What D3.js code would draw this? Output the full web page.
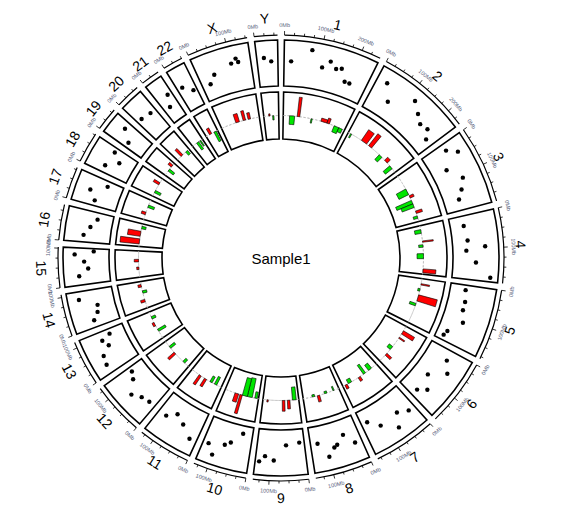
<!DOCTYPE html>
<html><head><meta charset="utf-8">
<script src="https://cdn.jsdelivr.net/npm/d3@7"></script>
<style>body{margin:0;background:#fff}</style></head>
<body><svg id="chart" width="562" height="523"></svg>
<script>
// chromosome names and lengths (Mb, hg19)
const chromosomes = ["1","2","3","4","5","6","7","8","9","10","11","12","13","14","15","16","17","18","19","20","21","22","X","Y"];
const lengths = [249,243,198,191,181,171,159,146,141,136,135,134,115,107,103,90,81,78,59,63,48,51,155,59];

// outer track points: [chr, position Mb, value 0..1]
const points = [
  ["1",20,0.55],["1",75,0.9],["1",110,0.5],["1",130,0.7],["1",150,0.55],["1",165,0.6],["1",185,0.3],["1",200,0.3],
  ["2",30,0.75],["2",60,0.35],["2",120,0.8],["2",150,0.6],["2",175,0.45],["2",200,0.5],["2",220,0.3],
  ["3",20,0.55],["3",40,0.8],["3",70,0.3],["3",110,0.6],["3",140,0.45],["3",165,0.3],
  ["4",30,0.25],["4",75,0.3],["4",95,0.75],["4",105,0.25],["4",140,0.5],["4",180,0.9],
  ["5",15,0.3],["5",50,0.35],["5",75,0.35],["5",110,0.45],["5",150,0.15],["5",165,0.1],
  ["6",30,0.5],["6",60,0.7],["6",95,0.3],["6",130,0.55],["6",150,0.35],
  ["7",20,0.6],["7",50,0.45],["7",70,0.8],["7",110,0.5],["7",140,0.25],
  ["8",20,0.6],["8",45,0.3],["8",70,0.5],["8",80,0.55],["8",100,0.75],["8",125,0.35],
  ["9",15,0.25],["9",55,0.3],["9",90,0.7],["9",115,0.6],["9",130,0.75],
  ["10",30,0.1],["10",60,0.4],["10",75,0.5],["10",100,0.85],["10",120,0.6],
  ["11",20,0.7],["11",55,0.45],["11",85,0.3],["11",110,0.5],
  ["12",20,0.5],["12",45,0.55],["12",70,0.7],["12",100,0.4],["12",120,0.3],
  ["13",25,0.75],["13",50,0.7],["13",70,0.45],["13",90,0.55],["13",100,0.3],
  ["14",20,0.55],["14",40,0.4],["14",60,0.35],["14",85,0.8],
  ["15",25,0.7],["15",45,0.45],["15",65,0.55],["15",85,0.8],["15",95,0.3],
  ["16",20,0.6],["16",45,0.45],["16",70,0.3],
  ["17",15,0.5],["17",40,0.7],["17",65,0.3],
  ["18",20,0.6],["18",45,0.3],["18",65,0.55],
  ["19",15,0.4],["19",40,0.7],
  ["20",15,0.55],["20",45,0.5],
  ["21",20,0.3],["21",35,0.6],
  ["22",15,0.55],["22",40,0.35],
  ["X",25,0.3],["X",45,0.5],["X",100,0.65],["X",115,0.75],["X",120,0.65],
  ["Y",20,0.65],["Y",40,0.55]
];

// inner track bars: [chr, start Mb, end Mb, value -1..1]
const bars = [
  ["1",25,45,-0.4],["1",55,65,0.9],["1",110,115,-0.2],["1",150,175,0.15],["1",175,185,0.25],["1",205,225,-0.3],["1",225,240,-0.2],
  ["2",10,15,-0.2],["2",60,85,0.6],["2",95,110,0.7],["2",150,165,-0.3],["2",180,195,0.2],["2",210,225,-0.4],
  ["3",60,85,-0.5],["3",90,100,0.2],["3",110,125,-0.8],["3",125,140,-0.6],["3",155,165,0.3],["3",175,185,-0.2],
  ["4",15,30,-0.3],["4",60,65,0.5],["4",75,85,-0.2],["4",110,130,-0.3],["4",170,185,0.6],
  ["5",20,25,0.4],["5",40,50,-0.1],["5",65,90,0.9],["5",100,110,-0.3],
  ["6",20,35,0.6],["6",50,55,0.3],["6",95,110,-0.2],["6",130,140,0.3],
  ["7",25,40,-0.3],["7",55,65,-0.5],["7",80,90,0.2],["7",120,135,-0.2],["7",140,150,0.2],
  ["8",20,25,-0.2],["8",50,60,-0.1],["8",80,90,0.3],["8",100,110,-0.1],
  ["9",10,25,-0.6],["9",35,45,0.4],["9",55,65,0.5],["9",120,125,0.1],
  ["10",5,15,-0.3],["10",25,45,-0.9],["10",45,65,-0.85],["10",65,75,0.9],["10",80,95,0.4],
  ["11",20,30,-0.4],["11",40,50,-0.3],["11",65,75,0.4],["11",90,100,0.5],
  ["12",20,30,-0.2],["12",70,80,0.4],["12",100,110,-0.3],
  ["13",30,40,-0.4],["13",55,70,0.1],["13",85,95,-0.2],
  ["14",25,35,0.2],["14",60,70,-0.2],["14",85,95,0.15],
  ["15",30,40,0.1],["15",60,70,0.2],
  ["16",10,30,0.9],["16",40,60,0.6],["16",70,80,-0.2],
  ["17",20,30,0.2],["17",50,60,-0.3],
  ["18",15,25,-0.3],["18",50,60,0.3],
  ["19",20,30,-0.3],["19",40,50,0.2],
  ["20",20,30,0.4],["20",45,55,-0.2],
  ["21",20,30,-0.4],["21",35,40,-0.3],
  ["22",15,25,0.3],["22",35,45,-0.5],
  ["X",60,75,0.4],["X",90,100,0.45],["X",110,120,0.3],
  ["Y",20,25,0.1],["Y",35,40,-0.2]
];

const svg = d3.select("#chart");
const cx = 281, cy = 258;
const g = svg.append("g").attr("transform", `translate(${cx},${cy})`);

const gapDeg = 1.8;
const total = d3.sum(lengths);
const degPerMb = (360 - gapDeg * chromosomes.length) / total;
const rad = Math.PI / 180;

// angular scale per chromosome (radians, clockwise from 12 o'clock)
const scales = {};
let acc = gapDeg / 2;
chromosomes.forEach((c, i) => {
  scales[c] = d3.scaleLinear().domain([0, lengths[i]])
    .range([acc * rad, (acc + lengths[i] * degPerMb) * rad]);
  acc += lengths[i] * degPerMb + gapDeg;
});

const outerTrack = [172, 218];
const innerTrack = [119, 166];
const rPoint = d3.scaleLinear().domain([0, 1]).range([outerTrack[0] + 4, outerTrack[1] - 4]);
const rBar = d3.scaleLinear().domain([-1, 1]).range([innerTrack[0] + 2, innerTrack[1] - 2]);
const arc = d3.arc();
const pos = (a, r) => [r * Math.sin(a), -r * Math.cos(a)];

chromosomes.forEach((c, i) => {
  const s = scales[c];
  const [a0, a1] = s.range();
  [outerTrack, innerTrack].forEach(t => {
    g.append("path")
      .attr("d", arc({innerRadius: t[0], outerRadius: t[1], startAngle: a0, endAngle: a1}))
      .attr("fill", "none").attr("stroke", "#000").attr("stroke-width", 1.6);
  });
  // baseline
  g.append("path")
    .attr("d", arc({innerRadius: rBar(0), outerRadius: rBar(0), startAngle: a0, endAngle: a1}))
    .attr("fill", "none").attr("stroke", "#bbb").attr("stroke-width", 0.8).attr("stroke-dasharray", "2,2");

  // axis
  const rAx = 223;
  g.append("path")
    .attr("d", arc({innerRadius: rAx, outerRadius: rAx, startAngle: a0, endAngle: a1}))
    .attr("fill", "none").attr("stroke", "#000").attr("stroke-width", 1.2);
  d3.range(0, lengths[i] + 0.1, 25).forEach(m => {
    const a = s(m), major = m % 100 === 0;
    const p1 = pos(a, rAx), p2 = pos(a, rAx + (major ? 4 : 2.5));
    g.append("line").attr("x1", p1[0]).attr("y1", p1[1]).attr("x2", p2[0]).attr("y2", p2[1])
      .attr("stroke", "#000").attr("stroke-width", 0.8);
    if (major) {
      const p = pos(a, rAx + 8);
      const deg = a / rad;
      const flip = deg > 90 && deg < 270;
      g.append("text").attr("transform", `translate(${p[0]},${p[1]}) rotate(${flip ? deg - 180 : deg})`)
        .attr("text-anchor", "middle").attr("dominant-baseline", flip ? "hanging" : "auto")
        .attr("font-family", "Liberation Sans, Arial, sans-serif").attr("font-size", 5.5)
        .attr("fill", "#56607a").text(m + "Mb");
    }
  });
  // chromosome name
  const am = (a0 + a1) / 2, deg = am / rad;
  const flip = deg > 90 && deg < 270;
  const pl = pos(am, 240);
  g.append("text").attr("transform", `translate(${pl[0]},${pl[1]}) rotate(${flip ? deg - 180 : deg})`)
    .attr("text-anchor", "middle").attr("dominant-baseline", "central")
    .attr("font-family", "Liberation Sans, Arial, sans-serif").attr("font-size", 14)
    .attr("fill", "#000").text(c);
});

// points
g.selectAll("circle.pt").data(points).enter().append("circle")
  .attr("class", "pt")
  .attr("cx", d => pos(scales[d[0]](d[1]), rPoint(d[2]))[0])
  .attr("cy", d => pos(scales[d[0]](d[1]), rPoint(d[2]))[1])
  .attr("r", 2.2).attr("fill", "#000");

// bars
g.selectAll("path.bar").data(bars).enter().append("path")
  .attr("class", "bar")
  .attr("d", d => arc({
    innerRadius: Math.min(rBar(0), rBar(d[3])), outerRadius: Math.max(rBar(0), rBar(d[3])),
    startAngle: scales[d[0]](d[1]), endAngle: scales[d[0]](d[2])
  }))
  .attr("fill", d => d[3] > 0 ? "#ff0000" : "#00e600")
  .attr("stroke", "#000").attr("stroke-width", 0.6);

g.append("text").attr("text-anchor", "middle").attr("dominant-baseline", "central")
  .attr("font-family", "Liberation Sans, Arial, sans-serif").attr("font-size", 15).text("Sample1");
</script></body></html>
